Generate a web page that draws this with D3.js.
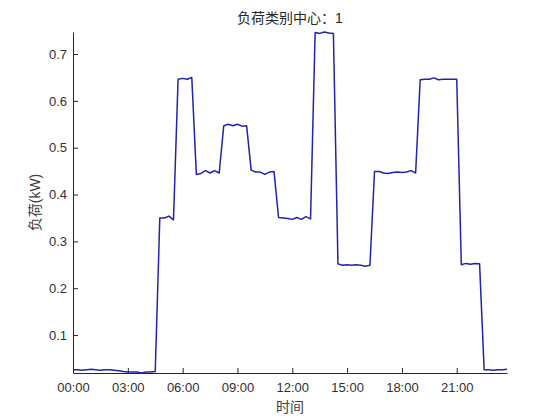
<!DOCTYPE html>
<html>
<head>
<meta charset="utf-8">
<script src="https://cdn.jsdelivr.net/npm/d3@7"></script>
<style>
  body { margin: 0; background: #fff; }
  svg { display: block; }
</style>
</head>
<body>
<div id="chart"></div>
<script>
// 15-min load profile, hours 0..23.75
const hours = d3.range(96).map(i => i / 4);
const load = [
  0.026, 0.026, 0.025, 0.026, 0.027, 0.026, 0.025, 0.026, 0.026, 0.025,
  0.024, 0.022, 0.021, 0.021, 0.021, 0.019, 0.021, 0.021, 0.022,
  0.350, 0.350, 0.354, 0.346,
  0.646, 0.648, 0.646, 0.650,
  0.443, 0.445, 0.451, 0.446, 0.451, 0.446,
  0.547, 0.550, 0.547, 0.550, 0.546, 0.547,
  0.452, 0.448, 0.448, 0.443, 0.448, 0.449,
  0.351, 0.350, 0.349, 0.347, 0.351, 0.347, 0.353, 0.348,
  0.746, 0.744, 0.747, 0.745, 0.744,
  0.252, 0.249, 0.250, 0.249, 0.250, 0.249, 0.247, 0.249,
  0.449, 0.449, 0.446, 0.445, 0.447, 0.448, 0.447, 0.448, 0.451, 0.446,
  0.645, 0.646, 0.646, 0.649, 0.645, 0.646, 0.646, 0.646, 0.646,
  0.250, 0.253, 0.251, 0.253, 0.252,
  0.026, 0.026, 0.025, 0.026, 0.026, 0.027
];
const xTicks = [0, 3, 6, 9, 12, 15, 18, 21];
const xTickLabels = ["00:00", "03:00", "06:00", "09:00", "12:00", "15:00", "18:00", "21:00"];
const yTicks = [0.1, 0.2, 0.3, 0.4, 0.5, 0.6, 0.7];

const W = 560, H = 420;
const margin = {top: 32, right: 53, bottom: 47, left: 73};
const width = W - margin.left - margin.right;
const height = H - margin.top - margin.bottom;

const svg = d3.select("#chart").append("svg")
    .attr("width", W)
    .attr("height", H);

const g = svg.append("g")
    .attr("transform", "translate(" + margin.left + "," + margin.top + ")");

const x = d3.scaleLinear()
    .domain(d3.extent(hours))
    .range([0, width]);
const y = d3.scaleLinear()
    .domain(d3.extent(load))
    .range([height, 0]);

const numFont = "'Liberation Sans', Arial, sans-serif";
const cjkFont = "'Noto Sans CJK SC', sans-serif";

// axes, MATLAB style with ticks pointing inward
const xAxis = d3.axisBottom(x)
    .tickValues(xTicks)
    .tickFormat((d, i) => xTickLabels[i])
    .tickSizeInner(-5)
    .tickSizeOuter(0)
    .tickPadding(10);
const yAxis = d3.axisLeft(y)
    .tickValues(yTicks)
    .tickFormat(d3.format(".1f"))
    .tickSizeInner(-5)
    .tickSizeOuter(0)
    .tickPadding(6);

const gx = g.append("g")
    .attr("transform", "translate(0," + height + ")")
    .call(xAxis);
const gy = g.append("g").call(yAxis);

[gx, gy].forEach(a => {
    a.select(".domain").attr("stroke", "#262626").attr("stroke-width", 1);
    a.selectAll(".tick line").attr("stroke", "#262626");
    a.selectAll(".tick text")
        .attr("fill", "#303030")
        .style("font-family", numFont)
        .style("font-size", "13px");
});

// load curve
const line = d3.line()
    .x((d, i) => x(hours[i]))
    .y(d => y(d));

g.append("path")
    .datum(load)
    .attr("fill", "none")
    .attr("stroke", "#2222aa")
    .attr("stroke-width", 1.5)
    .attr("stroke-linejoin", "round")
    .attr("d", line);

// title and labels
const title = svg.append("text")
    .attr("x", margin.left + width / 2)
    .attr("y", 23)
    .attr("text-anchor", "middle")
    .attr("fill", "#262626")
    .style("font-size", "14px");
title.append("tspan").style("font-family", cjkFont).text("负荷类别中心：");
title.append("tspan").style("font-family", numFont).text("1");

svg.append("text")
    .attr("x", margin.left + width / 2)
    .attr("y", 412)
    .attr("text-anchor", "middle")
    .attr("fill", "#404040")
    .style("font-family", cjkFont)
    .style("font-size", "14px")
    .text("时间");

const ylab = svg.append("text")
    .attr("transform", "translate(40," + (margin.top + height / 2) + ") rotate(-90)")
    .attr("text-anchor", "middle")
    .attr("fill", "#404040")
    .style("font-size", "14px");
ylab.append("tspan").style("font-family", cjkFont).text("负荷");
ylab.append("tspan").style("font-family", numFont).text("(kW)");
</script>
</body>
</html>
